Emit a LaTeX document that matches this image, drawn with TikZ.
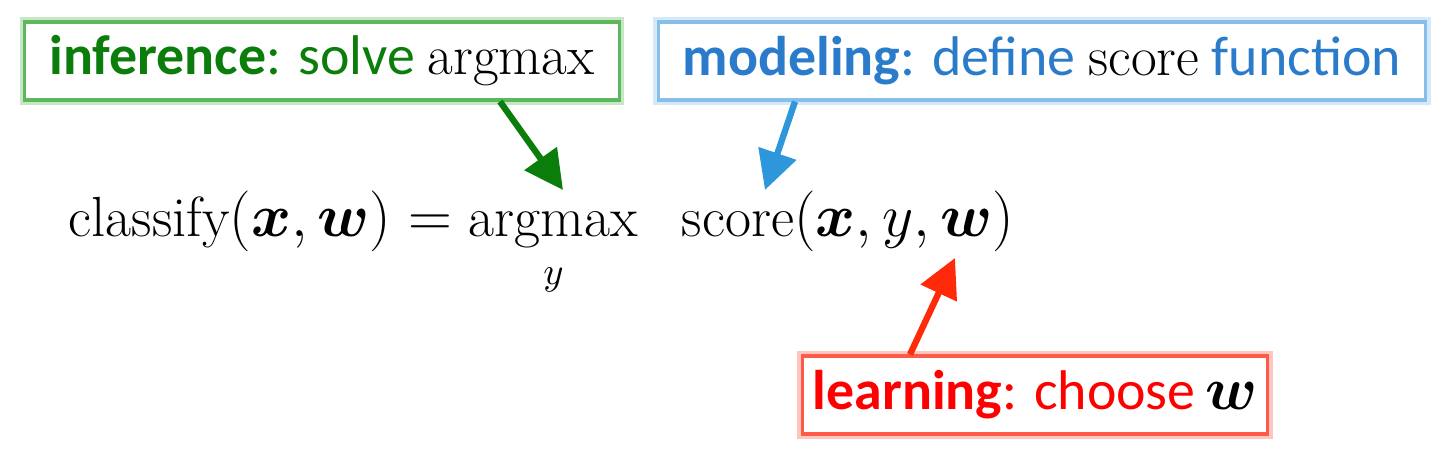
\documentclass[tikz,border=0pt]{standalone}
\usepackage{amsmath}
\usepackage{fontspec}
\usetikzlibrary{calc,arrows.meta}
\newfontfamily\calibfont{Carlito}
\definecolor{ginfer}{HTML}{0A7D0A}
\definecolor{ginferbox}{HTML}{5DB85D}
\definecolor{bmodel}{HTML}{2A7CCB}
\definecolor{bmodelbox}{HTML}{86C0EA}
\definecolor{bmodelarrow}{HTML}{2E96DA}
\definecolor{rlearn}{HTML}{FF0000}
\definecolor{rlearnbox}{HTML}{FF5A48}
\definecolor{rlearnarrow}{HTML}{FF2A0A}

\begin{document}
\begin{tikzpicture}[>={Triangle[length=11pt,width=11pt]},
    tagbox/.style={draw=#1, line width=0.9pt, fill=white,
      preaction={draw=#1!35, line width=3pt},
      inner xsep=7pt, minimum height=0.78cm,
      font=\calibfont\fontsize{15.9}{18}\selectfont},
    pointer/.style={->, line width=1.8pt, draw=#1, fill=#1}]
  \useasboundingbox (0,0) rectangle (14.54,-4.68);

  % the three task boxes
  \node[tagbox=ginferbox] (infer) at (3.22,-0.61)
     {\textcolor{ginfer}{\textbf{inference}: solve} $\operatorname{argmax}$};
  \node[tagbox=bmodelbox] (model) at (10.42,-0.61)
     {\textcolor{bmodel}{\textbf{modeling}: define} $\mathrm{score}$ \textcolor{bmodel}{function}};
  \node[tagbox=rlearnbox, inner xsep=3pt] (learn) at (10.35,-3.95)
     {\textcolor{rlearn}{\textbf{learning}: choose}\,$\boldsymbol{w}$};

  % the decision rule
  \node[anchor=base west, inner sep=0pt, font=\fontsize{16.1}{20}\selectfont] (rule) at (0.68,-2.37)
     {$\displaystyle \mathrm{classify}(\boldsymbol{x},\boldsymbol{w}) = \operatorname*{argmax}_{y}\;\;
       \mathrm{score}(\boldsymbol{x},y,\boldsymbol{w})$};

  % where each arrow lands in the rule
  \coordinate (argmaxTip) at (5.63,-1.90);
  \coordinate (scoreTip)  at (7.65,-1.90);
  \coordinate (wTip)      at (9.55,-2.58);

  \draw[pointer=ginfer]      ([xshift=1.78cm]infer.south) -- (argmaxTip);
  \draw[pointer=bmodelarrow] ([xshift=-2.47cm]model.south) -- (scoreTip);
  \draw[pointer=rlearnarrow] ([xshift=-1.25cm]learn.north) -- (wTip);
\end{tikzpicture}
\end{document}
